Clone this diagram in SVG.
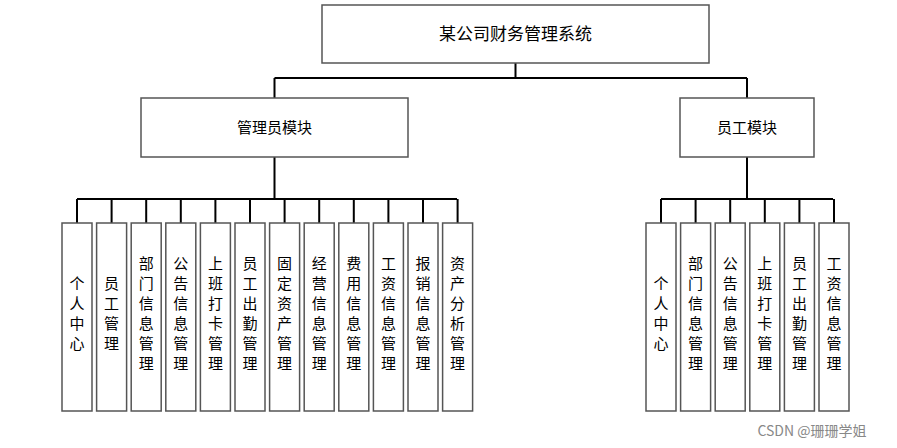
<svg xmlns="http://www.w3.org/2000/svg" width="897" height="448" viewBox="0 0 897 448">
<style>
.b{fill:#fff;stroke:#555;stroke-width:1.5}
.l{stroke:#000;stroke-width:2;fill:none}
text{font-family:"Noto Sans CJK SC",sans-serif;fill:#000;text-anchor:middle}
.t{font-size:17px}
.v{font-size:15px}
</style>
<rect width="897" height="448" fill="#fff"/>
<g id="connectors">
<path class="l" d="M515.5 63V78M274.5 78H747M274.5 78V98M747 78V98M274.5 157V199M747 157V199M77 199H457M77 199V223M111.6 199V223M146.2 199V223M180.8 199V223M215.4 199V223M250 199V223M284.6 199V223M319.2 199V223M353.8 199V223M388.4 199V223M423 199V223M457.6 199V223M661 199H833M661 199V223M695.6 199V223M730.2 199V223M764.8 199V223M799.4 199V223M834 199V223"/>
</g>
<g id="root"><rect class="b" x="322" y="5" width="387" height="58"/><text class="t" x="515.5" y="40">某公司财务管理系统</text></g>
<g id="admin"><rect class="b" x="141" y="98" width="267" height="59"/><text class="v" x="274.5" y="133">管理员模块</text></g>
<g id="staff"><rect class="b" x="680" y="98" width="134" height="59"/><text class="v" x="747" y="133">员工模块</text></g>
<g id="leaves">
<g id="a1"><rect class="b" x="62" y="223" width="30" height="188"/><text class="v" x="77"><tspan x="77" y="289">个</tspan><tspan x="77" y="309">人</tspan><tspan x="77" y="329">中</tspan><tspan x="77" y="349">心</tspan></text></g>
<g id="a2"><rect class="b" x="96.6" y="223" width="30" height="188"/><text class="v"><tspan x="111.6" y="289">员</tspan><tspan x="111.6" y="309">工</tspan><tspan x="111.6" y="329">管</tspan><tspan x="111.6" y="349">理</tspan></text></g>
<g id="a3"><rect class="b" x="131.2" y="223" width="30" height="188"/><text class="v"><tspan x="146.2" y="269">部</tspan><tspan x="146.2" y="289">门</tspan><tspan x="146.2" y="309">信</tspan><tspan x="146.2" y="329">息</tspan><tspan x="146.2" y="349">管</tspan><tspan x="146.2" y="369">理</tspan></text></g>
<g id="a4"><rect class="b" x="165.8" y="223" width="30" height="188"/><text class="v"><tspan x="180.8" y="269">公</tspan><tspan x="180.8" y="289">告</tspan><tspan x="180.8" y="309">信</tspan><tspan x="180.8" y="329">息</tspan><tspan x="180.8" y="349">管</tspan><tspan x="180.8" y="369">理</tspan></text></g>
<g id="a5"><rect class="b" x="200.4" y="223" width="30" height="188"/><text class="v"><tspan x="215.4" y="269">上</tspan><tspan x="215.4" y="289">班</tspan><tspan x="215.4" y="309">打</tspan><tspan x="215.4" y="329">卡</tspan><tspan x="215.4" y="349">管</tspan><tspan x="215.4" y="369">理</tspan></text></g>
<g id="a6"><rect class="b" x="235" y="223" width="30" height="188"/><text class="v"><tspan x="250" y="269">员</tspan><tspan x="250" y="289">工</tspan><tspan x="250" y="309">出</tspan><tspan x="250" y="329">勤</tspan><tspan x="250" y="349">管</tspan><tspan x="250" y="369">理</tspan></text></g>
<g id="a7"><rect class="b" x="269.6" y="223" width="30" height="188"/><text class="v"><tspan x="284.6" y="269">固</tspan><tspan x="284.6" y="289">定</tspan><tspan x="284.6" y="309">资</tspan><tspan x="284.6" y="329">产</tspan><tspan x="284.6" y="349">管</tspan><tspan x="284.6" y="369">理</tspan></text></g>
<g id="a8"><rect class="b" x="304.2" y="223" width="30" height="188"/><text class="v"><tspan x="319.2" y="269">经</tspan><tspan x="319.2" y="289">营</tspan><tspan x="319.2" y="309">信</tspan><tspan x="319.2" y="329">息</tspan><tspan x="319.2" y="349">管</tspan><tspan x="319.2" y="369">理</tspan></text></g>
<g id="a9"><rect class="b" x="338.8" y="223" width="30" height="188"/><text class="v"><tspan x="353.8" y="269">费</tspan><tspan x="353.8" y="289">用</tspan><tspan x="353.8" y="309">信</tspan><tspan x="353.8" y="329">息</tspan><tspan x="353.8" y="349">管</tspan><tspan x="353.8" y="369">理</tspan></text></g>
<g id="a10"><rect class="b" x="373.4" y="223" width="30" height="188"/><text class="v"><tspan x="388.4" y="269">工</tspan><tspan x="388.4" y="289">资</tspan><tspan x="388.4" y="309">信</tspan><tspan x="388.4" y="329">息</tspan><tspan x="388.4" y="349">管</tspan><tspan x="388.4" y="369">理</tspan></text></g>
<g id="a11"><rect class="b" x="408" y="223" width="30" height="188"/><text class="v"><tspan x="423" y="269">报</tspan><tspan x="423" y="289">销</tspan><tspan x="423" y="309">信</tspan><tspan x="423" y="329">息</tspan><tspan x="423" y="349">管</tspan><tspan x="423" y="369">理</tspan></text></g>
<g id="a12"><rect class="b" x="442.6" y="223" width="30" height="188"/><text class="v"><tspan x="457.6" y="269">资</tspan><tspan x="457.6" y="289">产</tspan><tspan x="457.6" y="309">分</tspan><tspan x="457.6" y="329">析</tspan><tspan x="457.6" y="349">管</tspan><tspan x="457.6" y="369">理</tspan></text></g>
<g id="s1"><rect class="b" x="646" y="223" width="30" height="188"/><text class="v"><tspan x="661" y="289">个</tspan><tspan x="661" y="309">人</tspan><tspan x="661" y="329">中</tspan><tspan x="661" y="349">心</tspan></text></g>
<g id="s2"><rect class="b" x="680.6" y="223" width="30" height="188"/><text class="v"><tspan x="695.6" y="269">部</tspan><tspan x="695.6" y="289">门</tspan><tspan x="695.6" y="309">信</tspan><tspan x="695.6" y="329">息</tspan><tspan x="695.6" y="349">管</tspan><tspan x="695.6" y="369">理</tspan></text></g>
<g id="s3"><rect class="b" x="715.2" y="223" width="30" height="188"/><text class="v"><tspan x="730.2" y="269">公</tspan><tspan x="730.2" y="289">告</tspan><tspan x="730.2" y="309">信</tspan><tspan x="730.2" y="329">息</tspan><tspan x="730.2" y="349">管</tspan><tspan x="730.2" y="369">理</tspan></text></g>
<g id="s4"><rect class="b" x="749.8" y="223" width="30" height="188"/><text class="v"><tspan x="764.8" y="269">上</tspan><tspan x="764.8" y="289">班</tspan><tspan x="764.8" y="309">打</tspan><tspan x="764.8" y="329">卡</tspan><tspan x="764.8" y="349">管</tspan><tspan x="764.8" y="369">理</tspan></text></g>
<g id="s5"><rect class="b" x="784.4" y="223" width="30" height="188"/><text class="v"><tspan x="799.4" y="269">员</tspan><tspan x="799.4" y="289">工</tspan><tspan x="799.4" y="309">出</tspan><tspan x="799.4" y="329">勤</tspan><tspan x="799.4" y="349">管</tspan><tspan x="799.4" y="369">理</tspan></text></g>
<g id="s6"><rect class="b" x="819" y="223" width="30" height="188"/><text class="v"><tspan x="834" y="269">工</tspan><tspan x="834" y="289">资</tspan><tspan x="834" y="309">信</tspan><tspan x="834" y="329">息</tspan><tspan x="834" y="349">管</tspan><tspan x="834" y="369">理</tspan></text></g>
</g>
<text x="812" y="436" style="font-size:14px;fill:#888">CSDN @珊珊学姐</text>
</svg>
